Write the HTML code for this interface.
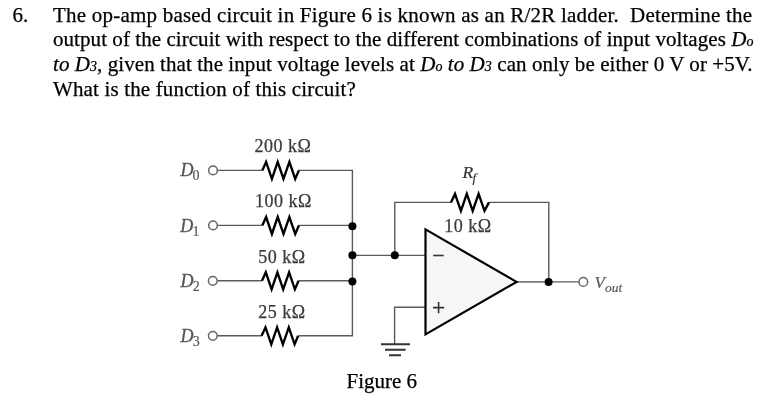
<!DOCTYPE html>
<html><head><meta charset="utf-8">
<style>
html,body{margin:0;padding:0;background:#fff;width:778px;height:400px;overflow:hidden;position:relative}
body{filter:blur(0.35px)}
.t{position:absolute;font-family:"Liberation Serif",serif;font-size:21px;line-height:1;white-space:pre;color:#000;-webkit-text-stroke:0.25px #000}
.i{font-style:italic}
.sub{font-size:14px}
svg{position:absolute;left:0;top:0}
svg text{font-family:"Liberation Serif",serif}
</style></head><body>
<div class="t" style="left:12.6px;top:4.8px">6.</div>
<div class="t" style="left:53px;top:5px;letter-spacing:0.215px">The op-amp based circuit in Figure 6 is known as an R/2R ladder.  Determine the</div>
<div class="t" style="left:53px;top:29.3px;letter-spacing:0.06px">output of the circuit with respect to the different combinations of input voltages <span class="i">D<span class="sub">o</span></span></div>
<div class="t" style="left:53px;top:53.5px;letter-spacing:0.07px"><span class="i">to D<span class="sub">3</span></span>, given that the input voltage levels at <span class="i">D<span class="sub">o</span> to D<span class="sub">3</span></span> can only be either 0 V or +5V.</div>
<div class="t" style="left:53px;top:78.7px;letter-spacing:0.15px">What is the function of this circuit?</div>

<svg width="778" height="400" viewBox="0 0 778 400">
  <g fill="none" stroke="#5a5a5a" stroke-width="1.4">
    <path d="M217.5 170.4 H262 M298.5 170.4 H352.4 V335.8 H298.5 M217.5 335.8 H262"/>
    <path d="M217.5 225.4 H262 M298.5 225.4 H352.4"/>
    <path d="M217.5 280.8 H262 M298.5 280.8 H352.4"/>
    <path d="M352.4 255.4 H425"/>
    <path d="M394.8 255.4 V202.4 H451 M489 202.4 H548.8 V281.9 H578.8"/>
    <path d="M517 281.9 H549"/>
    <path d="M425 307.2 H394.6 V344"/>
  </g>
  <g fill="none" stroke="#666" stroke-width="1.5">
    <circle cx="213" cy="170.4" r="4.35"/>
    <circle cx="213" cy="225.4" r="4.35"/>
    <circle cx="212.8" cy="280.8" r="4.35"/>
    <circle cx="212.8" cy="335.8" r="4.35"/>
    <circle cx="583.3" cy="281.9" r="4.35"/>
  </g>
  <g fill="none" stroke="#000" stroke-width="2.35" stroke-linejoin="miter" stroke-miterlimit="10">
    <path d="M262.3 170.4 L266.1 161.9 L271.9 178.9 L277.7 161.9 L283.5 178.9 L289.4 161.9 L295.2 178.9 L298.9 170.4"/>
    <path d="M262.3 225.5 L266.1 217.0 L271.9 234.0 L277.7 217.0 L283.5 234.0 L289.4 217.0 L295.2 234.0 L298.9 225.5"/>
    <path d="M262.0 280.8 L265.8 272.3 L271.59999999999997 289.3 L277.4 272.3 L283.2 289.3 L289.09999999999997 272.3 L294.9 289.3 L298.6 280.8"/>
    <path d="M261.6 335.8 L265.5 327.3 L271.29999999999995 344.3 L277.09999999999997 327.3 L282.9 344.3 L288.79999999999995 327.3 L294.59999999999997 344.3 L298.2 335.8"/>
    <path d="M451 202.4 L455 193.9 L460.9 210.9 L466.8 193.9 L472.7 210.9 L478.6 193.9 L484.5 210.9 L489 202.4"/>
  </g>
  <g fill="#000">
    <circle cx="352.4" cy="226.2" r="4"/>
    <circle cx="352.4" cy="255.3" r="4"/>
    <circle cx="352.4" cy="281.4" r="4"/>
    <circle cx="394.8" cy="255.3" r="4"/>
    <circle cx="548.6" cy="281.9" r="4"/>
  </g>
  <path d="M425.5 229.4 L516.6 281.9 L425.5 334.4 Z" fill="#f7f7f7" stroke="#000" stroke-width="2.2" stroke-linejoin="miter" stroke-miterlimit="3"/>
  <g stroke="#333" stroke-width="1.6" fill="none">
    <path d="M433.2 255.5 H443.7"/>
    <path d="M433 307.6 H444.2 M438.6 302 V313.2"/>
  </g>
  <g stroke="#333" stroke-width="2">
    <path d="M381 344.3 H410 M385 349.8 H405.6 M389 355.3 H401"/>
  </g>
  <g fill="#3a3a3a" stroke="#3a3a3a" stroke-width="0.25" font-size="18" letter-spacing="0.5">
    <text x="254.4" y="152">200 kΩ</text>
    <text x="254.9" y="207.4">100 kΩ</text>
    <text x="258.3" y="263">50 kΩ</text>
    <text x="258.3" y="318.3">25 kΩ</text>
    <text x="444.3" y="231.5">10 kΩ</text>
  </g>
  <g fill="#555" stroke="#555" stroke-width="0.3" font-size="18" font-style="italic">
    <text x="180.4" y="176.2">D</text>
    <text x="180.3" y="231.5">D</text>
    <text x="180.4" y="286.7">D</text>
    <text x="180.4" y="342">D</text>
  </g>
  <g fill="#555" stroke="#555" stroke-width="0.2" font-size="14">
    <text x="192.6" y="180">0</text>
    <text x="192.6" y="235.6">1</text>
    <text x="192.8" y="291">2</text>
    <text x="192.8" y="345.8">3</text>
  </g>
  <g fill="#333" stroke="#333" stroke-width="0.2" font-style="italic">
    <text x="462.4" y="177.7" font-size="17.5">R</text>
    <text x="472.6" y="182" font-size="13">f</text>
  </g>
  <g fill="#5a5a5a" stroke="#5a5a5a" stroke-width="0.2" font-style="italic">
    <text x="594.6" y="287.6" font-size="17">V</text>
    <text x="605" y="292.2" font-size="13.5">out</text>
  </g>
</svg>
<div class="t" style="left:346.5px;top:370.7px">Figure 6</div>
</body></html>
